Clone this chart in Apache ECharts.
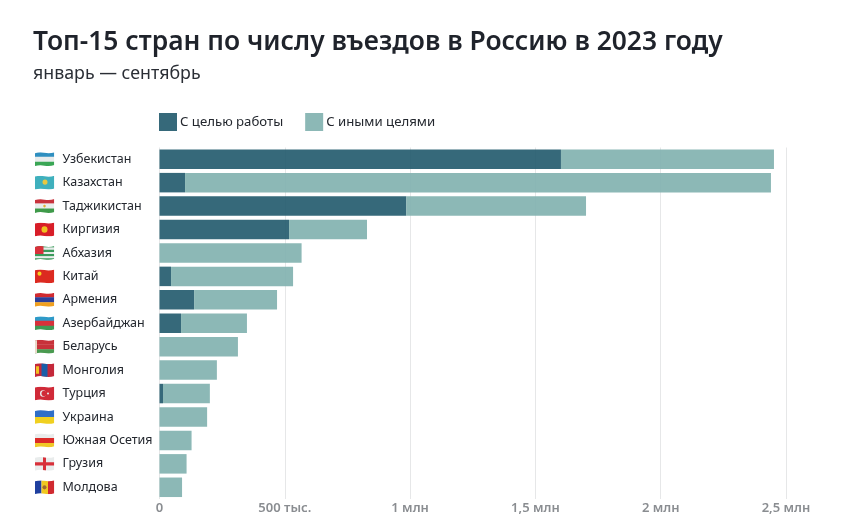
<!DOCTYPE html>
<html lang="ru">
<head>
<meta charset="UTF-8">
<title>Топ-15 стран по числу въездов в Россию в 2023 году</title>
<script src="https://cdn.jsdelivr.net/npm/echarts@6/dist/echarts.min.js"></script>
<style>
  html, body { margin: 0; background: #fff; }
  #chart { width: 841px; height: 531px; }
</style>
</head>
<body>
<div id="chart"></div>
<script>
// Values in thousands of entries
const countries = ['Узбекистан', 'Казахстан', 'Таджикистан', 'Киргизия', 'Абхазия', 'Китай', 'Армения', 'Азербайджан', 'Беларусь', 'Монголия', 'Турция', 'Украина', 'Южная Осетия', 'Грузия', 'Молдова']
const workValues = [1602, 102, 985, 517, 0, 46, 138, 86, 0, 0, 14, 0, 0, 0, 0]
const otherValues = [850, 2338, 717, 311, 567, 487, 331, 263, 313, 229, 187, 190, 128, 108, 90]
const tickLabels = { 0: '0', 500: '500 тыс.', 1000: '1 млн', 1500: '1,5 млн', 2000: '2 млн', 2500: '2,5 млн' }

const FONT = '"Noto Sans", sans-serif'
const PALE = '#e9ecec'

// Flag → stripes plus an optional emblem, on a 40x28 canvas
const stripes = (colors) => colors.map((c, i) => {
  const h = 28 / colors.length
  return `<rect x="0" y="${i * h}" width="40" height="${h + 0.5}" fill="${c}"/>`
}).join('')

const FLAGS = [
  stripes(['#2f8fc0', PALE, '#3aa655']),
  stripes(['#3fb0bd']) + '<circle cx="21" cy="13" r="5" fill="#e8c840"/>',
  stripes(['#c8323c', PALE, '#3f9a4a']) + '<circle cx="20" cy="14" r="2.5" fill="#e0b030"/>',
  stripes(['#d81e28']) + '<circle cx="20" cy="14" r="6" fill="#f0c020"/>',
  stripes(['#3a9a5a', PALE, '#3a9a5a', PALE, '#3a9a5a', PALE, '#3a9a5a']) + '<rect width="18" height="16" fill="#d8303a"/>',
  stripes(['#dc2a20']) + '<circle cx="10" cy="9" r="4" fill="#f5d020"/>',
  stripes(['#d02a30', '#2a3f9a', '#f0a020']),
  stripes(['#2f9ac8', '#d8303a', '#3f9a55']),
  stripes(['#c8323a', '#c8323a', '#4a9a50']) + '<rect width="5" height="28" fill="#e8d8c8"/>',
  '<rect width="40" height="28" fill="#c4283a"/><rect x="14" width="12" height="28" fill="#1a5ea8"/><rect x="3" y="7" width="6" height="14" fill="#f0c020"/>',
  stripes(['#d02a38']) + `<circle cx="17" cy="14" r="6" fill="${PALE}"/><circle cx="19" cy="14" r="5" fill="#d02a38"/><circle cx="27" cy="14" r="2" fill="${PALE}"/>`,
  stripes(['#2f6fc8', '#f0d020']),
  stripes([PALE, '#dc2a28', '#f0c828']),
  `<rect width="40" height="28" fill="${PALE}"/><rect x="17" width="6" height="28" fill="#d8303a"/><rect y="11" width="40" height="6" fill="#d8303a"/>`,
  '<rect width="14" height="28" fill="#1f3f9f"/><rect x="14" width="13" height="28" fill="#f0c820"/><rect x="27" width="13" height="28" fill="#d02a30"/><circle cx="20" cy="14" r="4" fill="#a06a30"/>'
]

// Flags are waved a little, the way emoji flags are
function flagImage(body) {
  const wave = 'M0 3 Q10 0 20 2 T40 1 V25 Q30 28 20 26 T0 27 Z'
  const svg = `<svg xmlns="http://www.w3.org/2000/svg" width="80" height="56" viewBox="0 0 40 28"><defs><clipPath id="w"><path d="${wave}"/></clipPath></defs><g clip-path="url(#w)">${body}</g></svg>`
  return 'data:image/svg+xml;charset=utf-8,' + encodeURIComponent(svg)
}

const labelRich = {
  name: { fontFamily: FONT, fontSize: 12.5, color: '#23272e', padding: [0, 0, 0, 8] }
}
FLAGS.forEach((body, i) => {
  labelRich['flag' + i] = { width: 20, height: 15, backgroundColor: { image: flagImage(body) } }
})

const chart = echarts.init(document.getElementById('chart'), null, { renderer: 'canvas' })

chart.setOption({
  animation: false,
  backgroundColor: '#fff',
  title: [
    {
      text: 'Топ-15 стран по числу въездов в Россию в 2023 году',
      left: 33, top: 29, padding: 0,
      textStyle: { fontFamily: FONT, fontSize: 26.4, fontWeight: 600, color: '#1f232b' }
    },
    {
      text: 'январь — сентябрь',
      left: 33, top: 65, padding: 0,
      textStyle: { fontFamily: FONT, fontSize: 17.8, fontWeight: 400, color: '#2a2e35' }
    }
  ],
  legend: {
    left: 159, top: 113, padding: 0,
    itemWidth: 18, itemHeight: 18, itemGap: 22,
    icon: 'rect',
    textStyle: { fontFamily: FONT, fontSize: 13.2, color: '#23272e', padding: [0, 0, 0, -2] },
    data: ['С целью работы', 'С иными целями']
  },
  grid: { left: 159.5, right: 55, top: 147.5, bottom: 32, containLabel: false },
  xAxis: {
    type: 'value',
    min: 0, max: 2500, interval: 500,
    axisLine: { show: false },
    axisTick: { show: false },
    axisLabel: {
      fontFamily: FONT, fontSize: 13, fontWeight: 600, color: '#8a8d91', margin: 3,
      formatter: (v) => tickLabels[v]
    },
    splitLine: { lineStyle: { color: '#e6e7e8', width: 1 } }
  },
  yAxis: {
    type: 'category',
    inverse: true,
    data: countries,
    axisLine: { show: false },
    axisTick: { show: false },
    axisLabel: {
      align: 'left', margin: 125, rich: labelRich,
      formatter: (value, i) => `{flag${i}|}{name|${value}}`
    }
  },
  series: [
    {
      name: 'С целью работы', type: 'bar', stack: 'total', barWidth: 19.5,
      itemStyle: { color: '#20596b', opacity: 0.9 },
      data: workValues
    },
    {
      name: 'С иными целями', type: 'bar', stack: 'total', barWidth: 19.5,
      itemStyle: { color: '#82b2b0', opacity: 0.92 },
      data: otherValues
    }
  ]
})

window.addEventListener('resize', () => chart.resize())
</script>
</body>
</html>
